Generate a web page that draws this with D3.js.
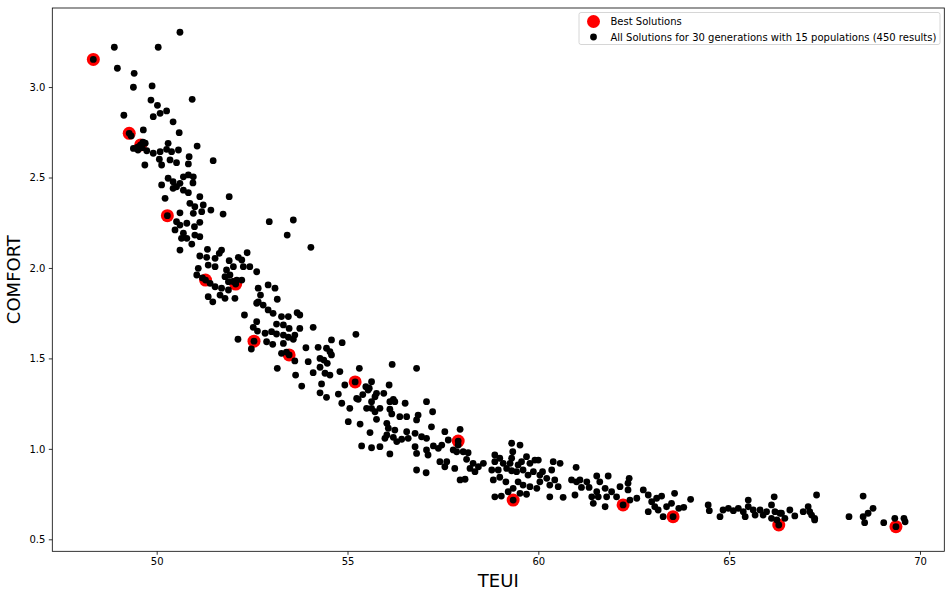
<!DOCTYPE html>
<html>
<head>
<meta charset="utf-8">
<script src="https://cdn.jsdelivr.net/npm/d3@7"></script>
<style>
  html, body { margin: 0; padding: 0; background: #fff; }
  svg { display: block; font-family: "DejaVu Sans", sans-serif; }
</style>
</head>
<body>
<svg id="chart" width="952" height="597"></svg>
<script>
// ---- data ----
const bestTEUI = [48.34, 49.28, 49.58, 50.28, 51.28, 52.07, 52.55, 53.47, 55.20, 57.90, 59.34, 62.22, 63.53, 66.30, 69.37];
const bestCOMFORT = [3.153, 2.744, 2.680, 2.289, 1.933, 1.911, 1.595, 1.519, 1.370, 1.043, 0.717, 0.690, 0.625, 0.579, 0.570];

const allTEUI = [
48.34,48.89,50.04,50.61,48.97,49.41,49.39,49.88,49.85,50.02,50.93,50.26,49.14,49.91,50.09,50.43,50.59,49.65,49.28,49.58,
49.39,49.51,49.74,49.91,50.09,50.30,50.26,50.39,50.57,51.06,50.85,51.48,49.69,50.07,50.13,50.35,50.52,50.83,49.33,49.62,
49.55,49.64,49.50,49.70,50.70,50.95,
50.13,50.30,50.43,50.52,50.61,50.70,50.83,50.96,50.43,50.22,50.83,51.13,51.90,50.87,51.00,51.22,51.18,50.96,51.42,51.74,
50.61,50.28,50.52,50.61,50.79,50.99,51.13,50.48,50.70,50.65,50.79,51.00,51.13,50.92,50.61,52.95,53.58,53.42,51.33,51.70,
51.13,51.31,51.53,51.64,51.90,52.14,52.37,52.23,51.35,51.09,51.53,51.83,52.01,52.27,52.44,52.62,51.05,51.28,51.40,51.79,
51.92,52.10,52.23,52.07,51.88,51.53,51.70,51.88,51.35,51.66,51.79,52.05,51.47,52.66,52.72,52.92,53.10,52.66,52.62,52.79,
52.92,53.05,53.27,53.45,53.68,52.30,52.00,51.20,
54.04,53.16,53.75,54.10,52.62,53.14,53.32,53.47,53.75,52.53,52.64,52.84,53.01,53.14,53.32,53.45,53.62,53.58,52.13,52.55,
52.88,53.04,53.32,52.48,53.27,53.47,53.62,53.16,53.91,54.23,54.45,54.58,54.86,55.22,54.58,54.54,53.97,54.28,54.38,54.47,
54.10,54.54,53.64,54.80,53.80,54.32,54.28,54.76,54.45,54.93,55.20,55.31,55.48,55.63,55.57,55.76,55.95,56.09,56.17,55.24,
55.72,56.20,53.40,55.40,
54.28,54.41,56.81,55.54,55.28,54.85,55.06,55.02,55.33,55.50,55.63,55.72,55.76,55.63,55.85,56.11,56.24,56.11,56.16,56.37,
56.55,56.51,56.81,57.07,57.23,56.85,56.03,56.07,56.24,56.03,56.20,56.29,56.42,56.59,56.55,56.77,56.94,57.07,57.20,55.59,
55.98,55.37,55.63,55.85,56.11,56.77,56.81,57.07,57.11,57.25,57.38,57.47,57.55,57.95,57.64,57.90,57.77,57.86,58.03,58.16,
57.42,57.60,57.55,57.81,56.81,57.06,58.12,58.29,58.34,57.95,58.08,58.43,58.21,57.90,
58.56,58.86,58.99,58.86,59.08,58.78,58.95,59.17,58.82,58.99,59.15,59.30,59.52,59.33,59.30,59.26,59.47,59.69,59.56,59.78,
59.91,60.00,59.30,59.43,59.60,59.73,59.87,60.04,60.11,60.22,60.35,60.39,60.57,60.43,60.30,60.04,59.96,59.78,59.60,59.47,
59.69,59.52,59.34,59.21,58.86,59.03,59.34,60.30,60.65,60.52,60.99,60.87,61.00,61.09,61.13,60.96,61.27,61.33,61.53,61.61,
61.83,61.75,61.53,61.40,61.44,61.75,61.92,62.05,62.14,62.38,62.35,62.35,61.79,61.57,62.22,62.40,62.58,
62.75,62.88,62.97,63.10,63.23,63.05,62.88,63.14,63.27,63.36,63.49,63.57,63.53,63.68,63.81,63.99,64.45,64.48,64.76,64.84,
64.98,65.11,65.24,65.37,65.50,65.50,65.63,65.68,65.42,65.81,65.89,65.98,66.11,66.18,66.20,66.25,66.11,66.33,66.46,66.59,
66.72,66.94,67.07,67.11,67.24,67.29,66.30,
66.37,67.16,67.24,68.14,68.51,68.51,68.55,68.64,68.77,69.05,69.34,69.37,69.58,69.61
];
const allCOMFORT = [
3.153,3.220,3.220,3.303,3.104,3.076,2.999,3.006,2.928,2.899,2.932,2.868,2.844,2.836,2.855,2.808,2.748,2.763,2.744,2.680,
2.661,2.652,2.648,2.634,2.643,2.689,2.656,2.643,2.652,2.674,2.615,2.593,2.569,2.601,2.569,2.597,2.582,2.575,2.730,2.665,
2.672,2.695,2.668,2.690,2.430,2.470,
2.459,2.496,2.477,2.449,2.468,2.504,2.514,2.504,2.440,2.385,2.416,2.394,2.394,2.357,2.339,2.348,2.311,2.302,2.320,2.298,
2.305,2.289,2.256,2.237,2.247,2.228,2.252,2.210,2.192,2.164,2.164,2.182,2.173,2.132,2.099,2.256,2.265,2.182,2.103,2.099,
2.066,2.059,2.053,2.081,2.040,2.059,2.084,2.044,2.016,1.998,2.007,1.989,2.007,2.007,2.007,1.979,1.961,1.933,1.915,1.952,
1.961,1.933,1.933,1.911,1.924,1.896,1.888,1.878,1.841,1.850,1.832,1.832,1.813,1.888,1.850,1.906,1.888,1.813,1.805,1.795,
1.768,1.749,1.731,1.731,1.753,1.740,1.925,1.945,
2.114,1.827,1.740,1.672,1.703,1.690,1.685,1.666,1.666,1.672,1.651,1.639,1.648,1.635,1.629,1.617,1.629,1.606,1.606,1.595,
1.592,1.578,1.583,1.552,1.528,1.519,1.486,1.445,1.559,1.561,1.556,1.602,1.587,1.633,1.519,1.537,1.482,1.451,1.491,1.473,
1.421,1.408,1.408,1.427,1.347,1.359,1.310,1.303,1.285,1.353,1.370,1.445,1.344,1.371,1.335,1.307,1.307,1.353,1.467,1.279,
1.288,1.274,1.535,1.300,
1.500,1.418,1.445,1.325,1.274,1.252,1.224,1.150,1.137,1.224,1.224,1.205,1.163,1.261,1.224,1.261,1.261,1.219,1.193,1.178,
1.178,1.252,1.160,1.261,1.205,1.187,1.141,1.114,1.104,1.077,1.064,1.040,1.053,1.058,1.095,1.086,1.067,1.058,1.122,1.090,
1.058,1.016,1.006,1.012,0.972,1.012,0.975,0.994,0.966,1.016,1.003,1.021,1.095,1.108,1.049,1.021,0.994,0.984,0.984,0.979,
0.929,0.929,0.901,0.892,0.883,0.868,0.942,0.920,0.874,0.828,0.832,0.901,0.892,1.043,
0.920,0.966,0.948,0.929,0.920,0.883,0.883,0.892,0.828,0.843,0.818,1.031,1.021,0.984,0.948,0.920,0.911,0.957,0.929,0.920,
0.938,0.938,0.879,0.874,0.883,0.855,0.874,0.855,0.874,0.837,0.883,0.929,0.920,0.828,0.800,0.818,0.782,0.791,0.800,0.818,
0.749,0.754,0.782,0.763,0.735,0.739,0.717,0.735,0.732,0.791,0.898,0.828,0.818,0.828,0.787,0.745,0.818,0.787,0.850,0.818,
0.850,0.782,0.763,0.735,0.699,0.680,0.763,0.735,0.791,0.837,0.810,0.773,0.735,0.735,0.690,0.717,0.727,
0.773,0.745,0.708,0.727,0.739,0.680,0.653,0.662,0.625,0.680,0.699,0.754,0.625,0.671,0.677,0.721,0.690,0.658,0.625,0.662,
0.671,0.658,0.671,0.653,0.717,0.680,0.662,0.634,0.625,0.662,0.634,0.653,0.690,0.735,0.653,0.607,0.616,0.644,0.616,0.662,
0.629,0.653,0.680,0.653,0.616,0.745,0.579,
0.644,0.634,0.607,0.625,0.739,0.625,0.592,0.644,0.671,0.592,0.616,0.570,0.616,0.597
];

const xTicks = [50, 55, 60, 65, 70];
const yTicks = [0.5, 1.0, 1.5, 2.0, 2.5, 3.0];
const xLabel = "TEUI";
const yLabel = "COMFORT";
const legendLabels = ["Best Solutions", "All Solutions for 30 generations with 15 populations (450 results)"];

// ---- layout ----
const W = 952, H = 597;
const m = { left: 52.3, right: 944.3, top: 8, bottom: 551.3 };

const x = d3.scaleLinear().domain([47.265, 70.637]).range([m.left, m.right]);
const y = d3.scaleLinear().domain([0.4337, 3.437]).range([m.bottom, m.top]);

const svg = d3.select("#chart");

// points
const best = bestTEUI.map((v, i) => ({ x: v, y: bestCOMFORT[i] }));
const all = allTEUI.map((v, i) => ({ x: v, y: allCOMFORT[i] }));

svg.append("g").selectAll("circle").data(best).join("circle")
  .attr("cx", d => x(d.x)).attr("cy", d => y(d.y)).attr("r", 6.5).attr("fill", "#ff0000");

svg.append("g").selectAll("circle").data(all).join("circle")
  .attr("cx", d => x(d.x)).attr("cy", d => y(d.y)).attr("r", 3.4).attr("fill", "#000000");

// axes
const xAxis = d3.axisBottom(x).tickValues(xTicks).tickFormat(d3.format("d")).tickSizeInner(3.5).tickSizeOuter(0).tickPadding(3.5);
const yAxis = d3.axisLeft(y).tickValues(yTicks).tickFormat(d3.format(".1f")).tickSizeInner(3.5).tickSizeOuter(0).tickPadding(3.5);

const gx = svg.append("g").attr("transform", `translate(0,${m.bottom})`).call(xAxis);
const gy = svg.append("g").attr("transform", `translate(${m.left},0)`).call(yAxis);
[gx, gy].forEach(g => {
  g.select(".domain").remove();
  g.selectAll(".tick line").attr("stroke", "#000").attr("stroke-width", 0.8);
  g.selectAll(".tick text").attr("fill", "#000").style("font-size", "10px").style("font-family", "DejaVu Sans");
});

// frame
svg.append("rect").attr("x", m.left).attr("y", m.top)
  .attr("width", m.right - m.left).attr("height", m.bottom - m.top)
  .attr("fill", "none").attr("stroke", "#000").attr("stroke-width", 0.8);

// axis labels
svg.append("text").attr("x", (m.left + m.right) / 2).attr("y", 587)
  .attr("text-anchor", "middle").style("font-size", "18px").attr("fill", "#000").text(xLabel);
svg.append("text").attr("transform", `translate(20,${(m.top + m.bottom) / 2}) rotate(-90)`)
  .attr("text-anchor", "middle").style("font-size", "18px").attr("fill", "#000").text(yLabel);

// legend
const lg = svg.append("g");
lg.append("rect").attr("x", 579).attr("y", 12.5).attr("width", 361).attr("height", 32)
  .attr("rx", 2).attr("fill", "#fff").attr("fill-opacity", 0.8).attr("stroke", "#cccccc").attr("stroke-width", 0.8);
const legendColors = ["#ff0000", "#000000"];
const legendR = [6.5, 3.4];
const legendY = [21.5, 37];
legendLabels.forEach((t, i) => {
  lg.append("circle").attr("cx", 593.5).attr("cy", legendY[i]).attr("r", legendR[i]).attr("fill", legendColors[i]);
  lg.append("text").attr("x", 610.5).attr("y", legendY[i] + 3.6)
    .style("font-size", "10px").attr("fill", "#000").text(t);
});
</script>
</body>
</html>
